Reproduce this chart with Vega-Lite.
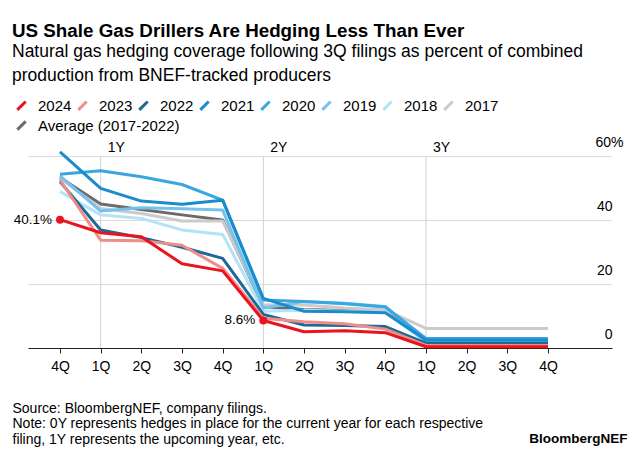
{
  "$schema": "https://vega.github.io/schema/vega-lite/v6.json",
  "autosize": {"type": "none"},
  "width": 584,
  "height": 192,
  "padding": {"left": 28, "top": 156, "right": 28, "bottom": 111},
  "title": {
    "text": "US Shale Gas Drillers Are Hedging Less Than Ever",
    "subtitle": ["Natural gas hedging coverage following 3Q filings as percent of combined", "production from BNEF-tracked producers"],
    "anchor": "start",
    "frame": "group",
    "dx": -16,
    "fontSize": 18.8,
    "fontWeight": "bold",
    "color": "#000",
    "subtitleFontSize": 17.5,
    "subtitleColor": "#000",
    "subtitleLineHeight": 23,
    "subtitlePadding": 3,
    "offset": 14
  },
  "datasets": {
    "hedge": [
      {"s":"2017","i":0,"v":53.0},{"s":"2017","i":1,"v":43.6},{"s":"2017","i":2,"v":42.0},{"s":"2017","i":3,"v":39.7},{"s":"2017","i":4,"v":39.7},{"s":"2017","i":5,"v":13.5},{"s":"2017","i":6,"v":13.4},{"s":"2017","i":7,"v":12.5},{"s":"2017","i":8,"v":11.9},{"s":"2017","i":9,"v":6.1},{"s":"2017","i":10,"v":6.1},{"s":"2017","i":11,"v":6.1},{"s":"2017","i":12,"v":6.1},
      {"s":"2018","i":0,"v":48.9},{"s":"2018","i":1,"v":41.6},{"s":"2018","i":2,"v":40.5},{"s":"2018","i":3,"v":36.9},{"s":"2018","i":4,"v":35.5},{"s":"2018","i":5,"v":11.5},{"s":"2018","i":6,"v":11.8},{"s":"2018","i":7,"v":11.5},{"s":"2018","i":8,"v":11.2},{"s":"2018","i":9,"v":1.8},{"s":"2018","i":10,"v":1.8},{"s":"2018","i":11,"v":1.8},{"s":"2018","i":12,"v":1.8},
      {"s":"2019","i":0,"v":53.8},{"s":"2019","i":1,"v":42.8},{"s":"2019","i":2,"v":43.8},{"s":"2019","i":3,"v":43.5},{"s":"2019","i":4,"v":43.1},{"s":"2019","i":5,"v":12.5},{"s":"2019","i":6,"v":14.5},{"s":"2019","i":7,"v":14.0},{"s":"2019","i":8,"v":13.0},{"s":"2019","i":9,"v":2.0},{"s":"2019","i":10,"v":2.0},{"s":"2019","i":11,"v":2.0},{"s":"2019","i":12,"v":2.0},
      {"s":"2020","i":0,"v":54.3},{"s":"2020","i":1,"v":55.4},{"s":"2020","i":2,"v":53.5},{"s":"2020","i":3,"v":51.1},{"s":"2020","i":4,"v":46.2},{"s":"2020","i":5,"v":15.0},{"s":"2020","i":6,"v":14.5},{"s":"2020","i":7,"v":13.8},{"s":"2020","i":8,"v":12.8},{"s":"2020","i":9,"v":3.0},{"s":"2020","i":10,"v":3.0},{"s":"2020","i":11,"v":3.0},{"s":"2020","i":12,"v":3.0},
      {"s":"2021","i":0,"v":61.3},{"s":"2021","i":1,"v":49.9},{"s":"2021","i":2,"v":45.9},{"s":"2021","i":3,"v":44.9},{"s":"2021","i":4,"v":46.2},{"s":"2021","i":5,"v":15.5},{"s":"2021","i":6,"v":11.5},{"s":"2021","i":7,"v":11.3},{"s":"2021","i":8,"v":11.0},{"s":"2021","i":9,"v":2.5},{"s":"2021","i":10,"v":2.5},{"s":"2021","i":11,"v":2.5},{"s":"2021","i":12,"v":2.5},
      {"s":"2022","i":0,"v":52.0},{"s":"2022","i":1,"v":36.9},{"s":"2022","i":2,"v":34.5},{"s":"2022","i":3,"v":31.5},{"s":"2022","i":4,"v":28.0},{"s":"2022","i":5,"v":10.5},{"s":"2022","i":6,"v":7.2},{"s":"2022","i":7,"v":7.0},{"s":"2022","i":8,"v":6.7},{"s":"2022","i":9,"v":1.5},{"s":"2022","i":10,"v":1.5},{"s":"2022","i":11,"v":1.5},{"s":"2022","i":12,"v":1.5},
      {"s":"2023","i":0,"v":52.5},{"s":"2023","i":1,"v":33.7},{"s":"2023","i":2,"v":33.5},{"s":"2023","i":3,"v":32.1},{"s":"2023","i":4,"v":24.9},{"s":"2023","i":5,"v":9.3},{"s":"2023","i":6,"v":8.2},{"s":"2023","i":7,"v":7.6},{"s":"2023","i":8,"v":5.9},{"s":"2023","i":9,"v":0.8},{"s":"2023","i":10,"v":0.8},{"s":"2023","i":11,"v":0.8},{"s":"2023","i":12,"v":0.8},
      {"s":"Average (2017-2022)","i":0,"v":53.3},{"s":"Average (2017-2022)","i":1,"v":45.0},{"s":"Average (2017-2022)","i":2,"v":43.3},{"s":"Average (2017-2022)","i":3,"v":41.6},{"s":"Average (2017-2022)","i":4,"v":40.0},{"s":"Average (2017-2022)","i":5,"v":12.9},{"s":"Average (2017-2022)","i":6,"v":12.0},{"s":"Average (2017-2022)","i":7,"v":11.7},{"s":"Average (2017-2022)","i":8,"v":11.3},{"s":"Average (2017-2022)","i":9,"v":2.5},{"s":"Average (2017-2022)","i":10,"v":2.5},{"s":"Average (2017-2022)","i":11,"v":2.5},{"s":"Average (2017-2022)","i":12,"v":2.5},
      {"s":"2024","i":0,"v":40.1},{"s":"2024","i":1,"v":36.0},{"s":"2024","i":2,"v":34.8},{"s":"2024","i":3,"v":26.3},{"s":"2024","i":4,"v":24.1},{"s":"2024","i":5,"v":8.6},{"s":"2024","i":6,"v":5.1},{"s":"2024","i":7,"v":5.4},{"s":"2024","i":8,"v":4.8},{"s":"2024","i":9,"v":0.4},{"s":"2024","i":10,"v":0.4},{"s":"2024","i":11,"v":0.4},{"s":"2024","i":12,"v":0.4}
    ],
    "periods": [{"i":1,"label":"1Y"},{"i":5,"label":"2Y"},{"i":9,"label":"3Y"}],
    "notes": [{"i":0,"v":40.1,"label":"40.1%"},{"i":5,"v":8.6,"label":"8.6%"}]
  },
  "encoding": {
    "x": {
      "field": "i", "type": "quantitative",
      "scale": {"domain": [-0.787, 13.574], "nice": false, "zero": false},
      "axis": {
        "values": [0,1,2,3,4,5,6,7,8,9,10,11,12],
        "labelExpr": "((datum.value+3)%4+1)+'Q'",
        "grid": false,
        "domainColor": "#222", "domainWidth": 1,
        "tickColor": "#222", "tickSize": 5,
        "labelFontSize": 14, "labelColor": "#000", "labelPadding": 6,
        "title": ["Source: BloombergNEF, company filings.", "Note: 0Y represents hedges in place for the current year for each respective", "filing, 1Y represents the upcoming year, etc."],
        "titleAnchor": "start", "titleAlign": "left", "titleBaseline": "top",
        "titleX": -16, "titleY": 53,
        "titleFontSize": 14, "titleFontWeight": "normal", "titleLineHeight": 15.5, "titleColor": "#000"
      }
    }
  },
  "layer": [
    {
      "data": {"name": "periods"},
      "mark": {"type": "rule", "color": "#d0d0d0", "strokeWidth": 1},
      "encoding": {
        "y": {"datum": 0, "type": "quantitative", "scale": {"domain": [0, 60], "nice": false}},
        "y2": {"datum": 60}
      }
    },
    {
      "data": {"name": "periods"},
      "mark": {"type": "text", "align": "left", "baseline": "alphabetic", "dx": 7, "dy": -4, "fontSize": 14, "color": "#000"},
      "encoding": {"y": {"datum": 60, "type": "quantitative"}, "text": {"field": "label"}}
    },
    {
      "data": {"name": "hedge"},
      "transform": [{"filter": "datum.s == 'Average (2017-2022)'"}],
      "mark": {"type": "line", "strokeWidth": 3, "strokeJoin": "round"},
      "encoding": {
        "y": {"field": "v", "type": "quantitative"},
        "stroke": {
          "field": "s", "type": "nominal",
          "scale": {"domain": ["Average (2017-2022)"], "range": ["#6b6b6b"]},
          "legend": {
            "orient": "none", "legendX": -14, "legendY": -38,
            "title": null,
            "symbolType": "M-1,1L1,-1", "symbolSize": 70, "symbolStrokeWidth": 3,
            "labelFontSize": 15, "labelColor": "#000", "labelOffset": 9
          }
        }
      }
    },
    {
      "data": {"name": "hedge"},
      "transform": [{"filter": "datum.s != '2024' && datum.s != 'Average (2017-2022)'"}],
      "mark": {"type": "line", "strokeWidth": 3, "strokeJoin": "round"},
      "encoding": {
        "y": {
          "field": "v", "type": "quantitative",
          "axis": {
            "orient": "right",
            "values": [0, 20, 40, 60],
            "domain": false, "ticks": false,
            "grid": true, "gridColor": "#dcdcdc",
            "labelExpr": "datum.value == 60 ? '60%' : datum.label",
            "labelAlign": {"condition": {"test": "datum.value == 60", "value": "left"}, "value": "right"},
            "labelPadding": {"condition": {"test": "datum.value == 60", "value": -17}, "value": 0},
            "labelBaseline": "alphabetic", "labelOffset": -10,
            "labelFontSize": 14, "labelColor": "#000",
            "title": "BloombergNEF", "titleAngle": 0, "titleAlign": "right", "titleBaseline": "middle",
            "titleX": 15, "titleY": 282, "titleFontSize": 13.5, "titleFontWeight": "bold", "titleColor": "#000"
          }
        },
        "color": {
          "field": "s", "type": "nominal",
          "scale": {
            "domain": ["2024","2023","2022","2021","2020","2019","2018","2017"],
            "range": ["#e8141e","#f08d85","#1b6a9a","#1a8ccc","#3aa6e0","#74c2ec","#b2e3f8","#cbcbcb"]
          },
          "legend": {
            "orient": "none", "legendX": -14, "legendY": -58,
            "direction": "horizontal", "title": null,
            "symbolType": "M-1,1L1,-1", "symbolSize": 70, "symbolStrokeWidth": 3,
            "labelFontSize": 15, "labelColor": "#000", "labelOffset": 9, "columnPadding": 0
          }
        }
      }
    },
    {
      "data": {"name": "hedge"},
      "transform": [{"filter": "datum.s == '2024'"}],
      "mark": {"type": "line", "strokeWidth": 3, "strokeJoin": "round"},
      "encoding": {"y": {"field": "v", "type": "quantitative"}, "color": {"field": "s", "type": "nominal"}}
    },
    {
      "data": {"name": "notes"},
      "mark": {"type": "point", "filled": true, "size": 64, "color": "#e8141e", "opacity": 1},
      "encoding": {"y": {"field": "v", "type": "quantitative"}}
    },
    {
      "data": {"name": "notes"},
      "mark": {"type": "text", "align": "right", "baseline": "middle", "dx": -8, "fontSize": 13.5, "color": "#000"},
      "encoding": {"y": {"field": "v", "type": "quantitative"}, "text": {"field": "label"}}
    }
  ],
  "config": {
    "font": "Liberation Sans",
    "view": {"stroke": null}
  }
}
